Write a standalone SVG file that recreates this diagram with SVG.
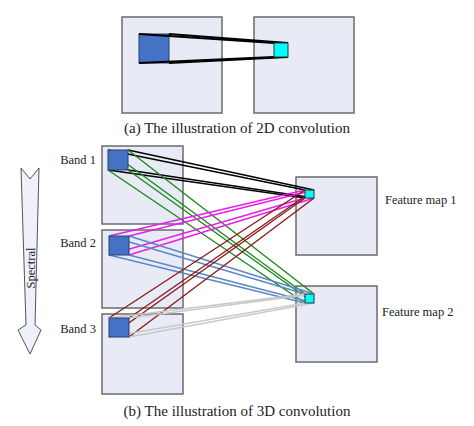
<svg xmlns="http://www.w3.org/2000/svg" width="474" height="426" viewBox="0 0 474 426">
<style>
.box{fill:#e8ebf6;stroke:#6b6b6b;stroke-width:1.5}
.src{fill:#4472c4;stroke:#2b3c6b;stroke-width:1}
.dst{fill:#00ffff;stroke:#1a3a3a;stroke-width:1}
.t{font-family:"Liberation Serif",serif;font-size:12.5px;fill:#222}
.cap{font-family:"Liberation Serif",serif;font-size:15px;fill:#222}
.c line{stroke-width:1.4;fill:none}
</style>
<rect width="474" height="426" fill="#fff"/>
<g id="conv2d">
<rect class="box" x="122" y="17" width="100" height="96"/>
<rect class="box" x="254" y="17" width="100" height="96"/>
<rect class="src" x="139" y="34" width="30" height="29"/>
<g stroke="#000" stroke-width="2.2">
<line x1="139" y1="34" x2="274" y2="43"/>
<line x1="169" y1="34" x2="288" y2="43"/>
<line x1="139" y1="63" x2="274" y2="57"/>
<line x1="169" y1="63" x2="288" y2="57"/>
</g>
<rect class="dst" x="274" y="43" width="14" height="14"/>
<text class="cap" x="237" y="133" text-anchor="middle">(a) The illustration of 2D convolution</text>
</g>
<g id="spectral">
<polygon points="21,168 30,179 39,168 35,325 41,330 30,354 18,330 26,325" fill="#eef1fa" stroke="#555" stroke-width="1"/>
<text class="t" transform="translate(35,268) rotate(-90)" text-anchor="middle">Spectral</text>
</g>
<g id="band1">
<rect class="box" x="102" y="146" width="81" height="78"/>
<text class="t" x="96" y="164" text-anchor="end">Band 1</text>
</g>
<g id="band2">
<rect class="box" x="102" y="230" width="81" height="78"/>
<text class="t" x="96" y="247" text-anchor="end">Band 2</text>
</g>
<g id="band3">
<rect class="box" x="102" y="314" width="81" height="80"/>
<text class="t" x="96" y="333" text-anchor="end">Band 3</text>
</g>
<g id="fmap1">
<rect class="box" x="296" y="177" width="81" height="78"/>
<text class="t" x="385" y="204">Feature map 1</text>
</g>
<g id="fmap2">
<rect class="box" x="296" y="286" width="81" height="76"/>
<text class="t" x="382" y="316">Feature map 2</text>
</g>
<g id="connectors" class="c">
<g stroke="#000">
<line x1="108" y1="150" x2="305" y2="190"/><line x1="128" y1="150" x2="314" y2="190"/>
<line x1="108" y1="170" x2="305" y2="198"/><line x1="128" y1="170" x2="314" y2="198"/>
</g>
<g stroke="#1a8a1a">
<line x1="108" y1="150" x2="305" y2="294"/><line x1="128" y1="150" x2="314" y2="294"/>
<line x1="108" y1="170" x2="305" y2="303"/><line x1="128" y1="170" x2="314" y2="303"/>
</g>
<g stroke="#e81ee8">
<line x1="109" y1="236" x2="305" y2="190"/><line x1="129" y1="236" x2="314" y2="190"/>
<line x1="109" y1="255" x2="305" y2="198"/><line x1="129" y1="255" x2="314" y2="198"/>
</g>
<g stroke="#5b87c5">
<line x1="109" y1="236" x2="305" y2="294"/><line x1="129" y1="236" x2="314" y2="294"/>
<line x1="109" y1="255" x2="305" y2="303"/><line x1="129" y1="255" x2="314" y2="303"/>
</g>
<g stroke="#8b1a1a">
<line x1="109" y1="318" x2="305" y2="190"/><line x1="129" y1="318" x2="314" y2="190"/>
<line x1="109" y1="337" x2="305" y2="198"/><line x1="129" y1="337" x2="314" y2="198"/>
</g>
<g stroke="#c8c8c8">
<line x1="109" y1="318" x2="305" y2="294"/><line x1="129" y1="318" x2="314" y2="294"/>
<line x1="109" y1="337" x2="305" y2="303"/><line x1="129" y1="337" x2="314" y2="303"/>
</g>
</g>
<g id="squares">
<rect class="src" x="108" y="150" width="20" height="20"/>
<rect class="src" x="109" y="236" width="20" height="19"/>
<rect class="src" x="109" y="318" width="20" height="19"/>
<rect class="dst" x="305" y="190" width="9" height="8"/>
<rect class="dst" x="305" y="294" width="9" height="9"/>
</g>
<text class="cap" x="237" y="416" text-anchor="middle">(b) The illustration of 3D convolution</text>
</svg>
